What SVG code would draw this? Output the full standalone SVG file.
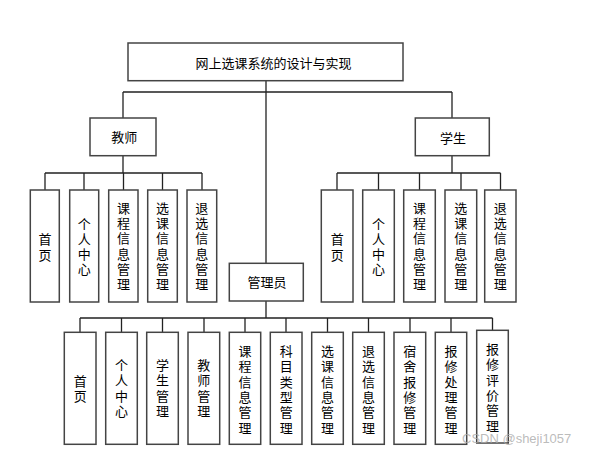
<svg xmlns="http://www.w3.org/2000/svg" width="597" height="455" viewBox="0 0 597 455">
<style>
.box{fill:#fff;stroke:#444;stroke-width:1.5}
.ln{fill:none;stroke:#222;stroke-width:1.3}
.t{font-family:"Noto Sans CJK SC","Liberation Sans",sans-serif;font-size:13px;fill:#000;text-anchor:middle;dominant-baseline:central}
.wm{font-family:"Liberation Sans",sans-serif;font-size:13px;fill:#aaa;fill-opacity:0.8}
</style>
<rect width="597" height="455" fill="#fff"/>
<g id="connectors">
<path class="ln" d="M266 80.7V263M123 92H452M123 92V118M452 92V118"/>
<path class="ln" d="M123 156V173M45 173H202M45 173V190M84 173V190M123.5 173V190M162.5 173V190M202 173V190"/>
<path class="ln" d="M452 156V173M337 173H500.5M337 173V190M378.5 173V190M419.5 173V190M461 173V190M500.5 173V190"/>
<path class="ln" d="M266 301V318M80 318H492.5M80 318V332M121.5 318V332M162.5 318V332M204 318V332M245 318V332M286 318V332M327.5 318V332M368.5 318V332M410 318V332M451 318V332M492.5 318V330"/>
</g>
<g id="root"><rect class="box" x="128" y="43" width="275" height="37.7"/><text class="t" x="273.5" y="62.3">网上选课系统的设计与实现</text></g>
<g id="teacher"><rect class="box" x="90" y="118" width="66" height="37.7"/><text class="t" x="124.3" y="136.7">教师</text></g>
<g id="student"><rect class="box" x="415.3" y="118" width="74" height="37.7"/><text class="t" x="453" y="137">学生</text></g>
<g id="admin"><rect class="box" x="229.3" y="263.3" width="74" height="37.7"/><text class="t" x="267" y="281.7">管理员</text></g>
<g id="t1"><rect class="box" x="30.3" y="190" width="29" height="112"/><text class="t"><tspan x="45" y="238.3">首</tspan><tspan x="45" dy="15.3">页</tspan></text></g>
<g id="t2"><rect class="box" x="69.7" y="190" width="29" height="112"/><text class="t"><tspan x="84.2" y="222.5">个</tspan><tspan x="84.2" dy="15.3">人</tspan><tspan x="84.2" dy="15.3">中</tspan><tspan x="84.2" dy="15.3">心</tspan></text></g>
<g id="t3"><rect class="box" x="108.7" y="190" width="29.3" height="112"/><text class="t"><tspan x="123.4" y="206.8">课</tspan><tspan x="123.4" dy="15.3">程</tspan><tspan x="123.4" dy="15.3">信</tspan><tspan x="123.4" dy="15.3">息</tspan><tspan x="123.4" dy="15.3">管</tspan><tspan x="123.4" dy="15.3">理</tspan></text></g>
<g id="t4"><rect class="box" x="147.7" y="190" width="29.6" height="112"/><text class="t"><tspan x="162.5" y="206.8">选</tspan><tspan x="162.5" dy="15.3">课</tspan><tspan x="162.5" dy="15.3">信</tspan><tspan x="162.5" dy="15.3">息</tspan><tspan x="162.5" dy="15.3">管</tspan><tspan x="162.5" dy="15.3">理</tspan></text></g>
<g id="t5"><rect class="box" x="187" y="190" width="29.7" height="112"/><text class="t"><tspan x="201.8" y="206.8">退</tspan><tspan x="201.8" dy="15.3">选</tspan><tspan x="201.8" dy="15.3">信</tspan><tspan x="201.8" dy="15.3">息</tspan><tspan x="201.8" dy="15.3">管</tspan><tspan x="201.8" dy="15.3">理</tspan></text></g>
<g id="s1"><rect class="box" x="321.3" y="190" width="31.7" height="112"/><text class="t"><tspan x="337.2" y="238.3">首</tspan><tspan x="337.2" dy="15.3">页</tspan></text></g>
<g id="s2"><rect class="box" x="362.7" y="190" width="31.6" height="112"/><text class="t"><tspan x="378.5" y="222.5">个</tspan><tspan x="378.5" dy="15.3">人</tspan><tspan x="378.5" dy="15.3">中</tspan><tspan x="378.5" dy="15.3">心</tspan></text></g>
<g id="s3"><rect class="box" x="403.7" y="190" width="31.6" height="112"/><text class="t"><tspan x="419.5" y="206.8">课</tspan><tspan x="419.5" dy="15.3">程</tspan><tspan x="419.5" dy="15.3">信</tspan><tspan x="419.5" dy="15.3">息</tspan><tspan x="419.5" dy="15.3">管</tspan><tspan x="419.5" dy="15.3">理</tspan></text></g>
<g id="s4"><rect class="box" x="445" y="190" width="31.7" height="112"/><text class="t"><tspan x="460.8" y="206.8">选</tspan><tspan x="460.8" dy="15.3">课</tspan><tspan x="460.8" dy="15.3">信</tspan><tspan x="460.8" dy="15.3">息</tspan><tspan x="460.8" dy="15.3">管</tspan><tspan x="460.8" dy="15.3">理</tspan></text></g>
<g id="s5"><rect class="box" x="484.7" y="190" width="31.3" height="112"/><text class="t"><tspan x="500.3" y="206.8">退</tspan><tspan x="500.3" dy="15.3">选</tspan><tspan x="500.3" dy="15.3">信</tspan><tspan x="500.3" dy="15.3">息</tspan><tspan x="500.3" dy="15.3">管</tspan><tspan x="500.3" dy="15.3">理</tspan></text></g>
<g id="a1"><rect class="box" x="64.3" y="332.3" width="31.7" height="112"/><text class="t"><tspan x="80.2" y="379.5">首</tspan><tspan x="80.2" dy="15.3">页</tspan></text></g>
<g id="a2"><rect class="box" x="105.7" y="332.3" width="31.6" height="112"/><text class="t"><tspan x="121.5" y="364">个</tspan><tspan x="121.5" dy="15.3">人</tspan><tspan x="121.5" dy="15.3">中</tspan><tspan x="121.5" dy="15.3">心</tspan></text></g>
<g id="a3"><rect class="box" x="146.7" y="332.3" width="31.6" height="112"/><text class="t"><tspan x="162.5" y="364">学</tspan><tspan x="162.5" dy="15.3">生</tspan><tspan x="162.5" dy="15.3">管</tspan><tspan x="162.5" dy="15.3">理</tspan></text></g>
<g id="a4"><rect class="box" x="188" y="332.3" width="31.7" height="112"/><text class="t"><tspan x="203.8" y="364">教</tspan><tspan x="203.8" dy="15.3">师</tspan><tspan x="203.8" dy="15.3">管</tspan><tspan x="203.8" dy="15.3">理</tspan></text></g>
<g id="a5"><rect class="box" x="229.3" y="332.3" width="31.4" height="112"/><text class="t"><tspan x="245" y="350">课</tspan><tspan x="245" dy="15.3">程</tspan><tspan x="245" dy="15.3">信</tspan><tspan x="245" dy="15.3">息</tspan><tspan x="245" dy="15.3">管</tspan><tspan x="245" dy="15.3">理</tspan></text></g>
<g id="a6"><rect class="box" x="270.3" y="332.3" width="31.7" height="112"/><text class="t"><tspan x="286.2" y="350">科</tspan><tspan x="286.2" dy="15.3">目</tspan><tspan x="286.2" dy="15.3">类</tspan><tspan x="286.2" dy="15.3">型</tspan><tspan x="286.2" dy="15.3">管</tspan><tspan x="286.2" dy="15.3">理</tspan></text></g>
<g id="a7"><rect class="box" x="311.7" y="332.3" width="31.6" height="112"/><text class="t"><tspan x="327.5" y="350">选</tspan><tspan x="327.5" dy="15.3">课</tspan><tspan x="327.5" dy="15.3">信</tspan><tspan x="327.5" dy="15.3">息</tspan><tspan x="327.5" dy="15.3">管</tspan><tspan x="327.5" dy="15.3">理</tspan></text></g>
<g id="a8"><rect class="box" x="352.7" y="332.3" width="31.6" height="112"/><text class="t"><tspan x="368.5" y="350">退</tspan><tspan x="368.5" dy="15.3">选</tspan><tspan x="368.5" dy="15.3">信</tspan><tspan x="368.5" dy="15.3">息</tspan><tspan x="368.5" dy="15.3">管</tspan><tspan x="368.5" dy="15.3">理</tspan></text></g>
<g id="a9"><rect class="box" x="394" y="332.3" width="31.7" height="112"/><text class="t"><tspan x="409.8" y="350">宿</tspan><tspan x="409.8" dy="15.3">舍</tspan><tspan x="409.8" dy="15.3">报</tspan><tspan x="409.8" dy="15.3">修</tspan><tspan x="409.8" dy="15.3">管</tspan><tspan x="409.8" dy="15.3">理</tspan></text></g>
<g id="a10"><rect class="box" x="435.3" y="332.3" width="31.4" height="112"/><text class="t"><tspan x="451" y="350">报</tspan><tspan x="451" dy="15.3">修</tspan><tspan x="451" dy="15.3">处</tspan><tspan x="451" dy="15.3">理</tspan><tspan x="451" dy="15.3">管</tspan><tspan x="451" dy="15.3">理</tspan></text></g>
<g id="a11"><rect class="box" x="476.7" y="330.3" width="31.6" height="112.7"/><text class="t"><tspan x="492.5" y="348">报</tspan><tspan x="492.5" dy="15.3">修</tspan><tspan x="492.5" dy="15.3">评</tspan><tspan x="492.5" dy="15.3">价</tspan><tspan x="492.5" dy="15.3">管</tspan><tspan x="492.5" dy="15.3">理</tspan></text></g>
<text class="wm" x="462" y="442.5">CSDN @sheji1057</text>
</svg>
